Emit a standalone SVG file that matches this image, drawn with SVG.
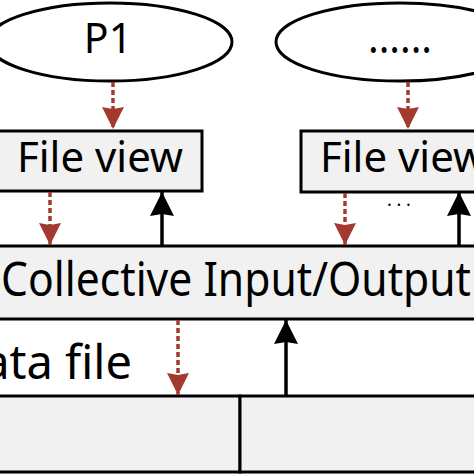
<svg xmlns="http://www.w3.org/2000/svg" width="474" height="474" viewBox="0 0 474 474">
<defs>
<style>
.node{fill:#ffffff;stroke:#000;stroke-width:3}
.box{fill:#f1f1f1;stroke:#000;stroke-width:3}
.t{font-family:"Noto Sans","Open Sans","DejaVu Sans",sans-serif;fill:#000}
.dash{stroke:#a33a30;stroke-width:3.5;stroke-dasharray:5 3;fill:none}
.solid{stroke:#000;stroke-width:3.5;fill:none}
</style>
<marker id="hr" viewBox="0 0 22 22" markerWidth="22" markerHeight="22" refX="22" refY="11" orient="auto" markerUnits="userSpaceOnUse">
<path d="M0,0 L22,11 L0,22 L2,11 Z" fill="#a33a30"/>
</marker>
<marker id="hb" viewBox="0 0 24 24" markerWidth="24" markerHeight="24" refX="24" refY="12" orient="auto" markerUnits="userSpaceOnUse">
<path d="M0,0 L24,12 L0,24 L2,12 Z" fill="#000"/>
</marker>
</defs>
<rect width="474" height="474" fill="#fff"/>
<g id="p1">
<ellipse class="node" cx="110" cy="42" rx="122" ry="39"/>
<text class="t" x="108" y="53" font-size="41" text-anchor="middle">P1</text>
</g>
<g id="pn">
<ellipse class="node" cx="400" cy="42" rx="124" ry="39"/>
<text class="t" x="368" y="53" font-size="44" textLength="64" lengthAdjust="spacingAndGlyphs">......</text>
</g>
<g id="fileview1">
<rect class="box" x="-10" y="131" width="212" height="60"/>
<text class="t" x="17" y="172" font-size="42" textLength="166" lengthAdjust="spacingAndGlyphs">File view</text>
</g>
<g id="fileview2">
<rect class="box" x="301" y="131" width="200" height="61"/>
<text class="t" x="320" y="172" font-size="42" textLength="166" lengthAdjust="spacingAndGlyphs">File view</text>
</g>
<g id="collective">
<rect class="box" x="-10" y="246" width="500" height="73"/>
<text class="t" x="1" y="296" font-size="48" textLength="470" lengthAdjust="spacingAndGlyphs">Collective Input/Output</text>
</g>
<g id="datafile">
<text class="t" x="132" y="379" font-size="47" text-anchor="end">Data file</text>
<rect class="box" x="-10" y="396" width="250" height="76"/>
<rect class="box" x="240" y="396" width="250" height="76"/>
</g>
<g id="connectors">
<line class="dash" x1="113" y1="82" x2="113" y2="129" marker-end="url(#hr)"/>
<line class="dash" x1="408" y1="82" x2="408" y2="129" marker-end="url(#hr)"/>
<line class="dash" x1="50" y1="192" x2="50" y2="245" marker-end="url(#hr)"/>
<line class="solid" x1="162" y1="245" x2="162" y2="192" marker-end="url(#hb)"/>
<line class="dash" x1="345" y1="193" x2="345" y2="245" marker-end="url(#hr)"/>
<line class="solid" x1="459" y1="245" x2="459" y2="192" marker-end="url(#hb)"/>
<line class="dash" x1="178" y1="320" x2="178" y2="395" marker-end="url(#hr)"/>
<line class="solid" x1="286" y1="395" x2="286" y2="320" marker-end="url(#hb)"/>
</g>
<text class="t" x="399" y="211" font-size="18" text-anchor="middle">· · ·</text>
</svg>
